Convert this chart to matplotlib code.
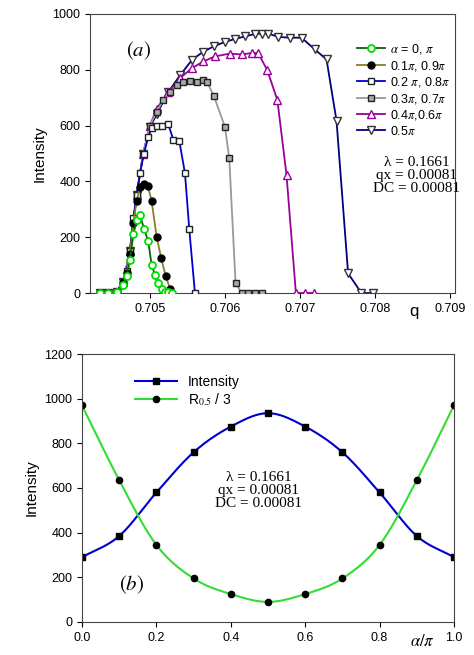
import numpy as np
import matplotlib
matplotlib.use("Agg")
import matplotlib.pyplot as plt

plt.rcParams['font.family'] = ['Liberation Sans', 'DejaVu Sans']
plt.rcParams['mathtext.fontset'] = 'stix'

rise_q = [0.704333, 0.704444, 0.704556, 0.704644, 0.704689, 0.704733, 0.704778, 0.704822]
q0 = rise_q + [0.704867, 0.70492, 0.704978, 0.705022, 0.705067, 0.705111, 0.705156, 0.7052, 0.705244, 0.705289]
i0 = [0, 0, 5, 30, 60, 120, 210, 260, 280, 230, 185, 100, 65, 35, 15, 5, 2, 0]
q1 = rise_q + [0.70487, 0.70492, 0.70497, 0.705022, 0.70509, 0.70515, 0.70521, 0.70527]
i1 = [0, 0, 5, 35, 70, 140, 250, 330, 380, 390, 385, 330, 200, 125, 60, 15]
q2 = rise_q + [0.704867, 0.70492, 0.704978, 0.705022, 0.705089, 0.705156, 0.705244, 0.705311, 0.705391, 0.705467, 0.705524, 0.7056]
i2 = [0, 0, 5, 40, 80, 150, 270, 350, 430, 500, 560, 590, 600, 600, 605, 550, 545, 430, 230, 0]
q3 = [0.704333, 0.704444, 0.704556, 0.704644, 0.704733, 0.704822, 0.70491, 0.705, 0.705089, 0.705178, 0.705267, 0.705356, 0.705444, 0.705533, 0.705622, 0.705711, 0.705764, 0.705853, 0.706, 0.706058, 0.706142, 0.706222, 0.706311, 0.7064, 0.706489]
i3 = [0, 0, 5, 40, 150, 350, 500, 600, 650, 690, 720, 745, 755, 760, 755, 765, 755, 706, 596, 483, 37, 0, 0, 0, 0]
q4 = [0.704333, 0.704444, 0.704556, 0.704644, 0.704733, 0.704822, 0.70491, 0.705, 0.705089, 0.705244, 0.7054, 0.705556, 0.705711, 0.705867, 0.706067, 0.706222, 0.706356, 0.706444, 0.706564, 0.7067, 0.706822, 0.706947, 0.707067, 0.707191]
i4 = [0, 0, 5, 40, 150, 350, 500, 600, 660, 720, 770, 805, 830, 848, 858, 855, 860, 860, 799, 692, 423, 0, 0, 0]
q5 = [0.704333, 0.704444, 0.704556, 0.704644, 0.704733, 0.704822, 0.70491, 0.705, 0.705089, 0.705244, 0.7054, 0.70556, 0.70571, 0.70586, 0.706, 0.70613, 0.70627, 0.7064, 0.706489, 0.706578, 0.706711, 0.706867, 0.707022, 0.7072, 0.707356, 0.707489, 0.707644, 0.707822, 0.707978]
i5 = [0, 0, 5, 40, 150, 350, 500, 595, 640, 720, 780, 835, 865, 885, 900, 910, 920, 928, 930, 930, 918, 915, 915, 873, 837, 618, 70, 0, 0]
labels_a = [r"$\alpha$ = 0, $\pi$", r"0.1$\pi$, 0.9$\pi$", r"0.2 $\pi$, 0.8$\pi$",
            r"0.3$\pi$, 0.7$\pi$", r"0.4$\pi$,0.6$\pi$", r"0.5$\pi$"]

alpha = [0.0, 0.1, 0.2, 0.3, 0.4, 0.5, 0.6, 0.7, 0.8, 0.9, 1.0]
intensity_b = [290, 385, 580, 760, 875, 935, 875, 760, 580, 385, 290]
r05_b = [970, 635, 345, 195, 125, 90, 125, 195, 345, 635, 970]

def smooth(x, y, n=20):
    x = np.asarray(x, float); y = np.asarray(y, float)
    xp = np.concatenate([[2*x[0]-x[1]], x, [2*x[-1]-x[-2]]])
    yp = np.concatenate([[2*y[0]-y[1]], y, [2*y[-1]-y[-2]]])
    xs, ys = [], []
    for k in range(1, len(xp)-2):
        t = np.linspace(0, 1, n, endpoint=False)
        p0, p1, p2, p3 = yp[k-1:k+3]
        ys.append(0.5*(2*p1 + (-p0+p2)*t + (2*p0-5*p1+4*p2-p3)*t**2 + (-p0+3*p1-3*p2+p3)*t**3))
        xs.append(xp[k] + (xp[k+1]-xp[k])*t)
    xs.append([x[-1]]); ys.append([y[-1]])
    return np.concatenate(xs), np.concatenate(ys)

fig = plt.figure(figsize=(4.74, 6.55), dpi=100)
ax1 = fig.add_axes([90/474, 1-293/655, 365/474, 279/655])
ax2 = fig.add_axes([82/474, 1-622/655, 372/474, 268/655])
for ax in (ax1, ax2):
    for s in ax.spines.values():
        s.set_color("#444444")

ms = 5
ax1.plot(q5, i5, color="#000080", marker="v", mfc="white", mec="#333333", ms=ms+1, lw=1.3, label=labels_a[5], zorder=2)
ax1.plot(q4, i4, color="#990099", marker="^", mfc="white", mec="#990099", ms=ms+1, lw=1.3, label=labels_a[4], zorder=3)
ax1.plot(q3, i3, color="#999999", marker="s", mfc="#aaaaaa", mec="#222222", ms=ms-0.5, lw=1.3, label=labels_a[3], zorder=4)
ax1.plot(q2, i2, color="#0000cc", marker="s", mfc="white", mec="#222222", ms=ms, lw=1.3, label=labels_a[2], zorder=5)
ax1.plot(q1, i1, color="#8b7d2a", marker="o", mfc="black", mec="black", ms=ms, lw=1.3, label=labels_a[1], zorder=6)
ax1.plot(q0, i0, color="#006600", marker="o", mfc="white", mec="#00dd00", mew=1.3, ms=ms, lw=1.3, label=labels_a[0], zorder=7)
h, l = ax1.get_legend_handles_labels()
ax1.legend(h[::-1], l[::-1], loc="upper right", bbox_to_anchor=(1.01, 0.93), frameon=False,
           fontsize=9, handlelength=2.2, labelspacing=0.2, borderaxespad=0.3, handletextpad=0.4)
ax1.set_xlim(0.7042, 0.70907)
ax1.set_ylim(0, 1000)
ax1.set_xticks([0.705, 0.706, 0.707, 0.708, 0.709])
ax1.set_xticklabels(["0.705", "0.706", "0.707", "0.708", "0.709"])
ax1.set_yticks([0, 200, 400, 600, 800, 1000])
ax1.set_ylabel("Intensity", fontsize=11)
ax1.text(0.90, -0.065, "q", transform=ax1.transAxes, ha="right", va="center", fontsize=12)
ax1.text(0.1, 0.85, r"$(a)$", transform=ax1.transAxes, fontsize=15)
ax1.text(0.895, 0.42, "λ = 0.1661\nqx = 0.00081\nDC = 0.00081", transform=ax1.transAxes,
         ha="center", va="center", fontsize=11, family="Liberation Serif", linespacing=1.0)
ax1.tick_params(labelsize=9)

xs, ys = smooth(alpha, intensity_b)
ax2.plot(xs, ys, color="#0000cc", lw=1.5)
ax2.plot(alpha, intensity_b, ls="none", marker="s", color="black", ms=4.5)
ax2.plot([], [], color="#0000cc", lw=1.5, marker="s", mfc="black", mec="black", ms=4.5, label="Intensity")
xs, ys = smooth(alpha, r05_b)
ax2.plot(xs, ys, color="#33dd33", lw=1.5)
ax2.plot(alpha, r05_b, ls="none", marker="o", color="black", ms=4.5)
ax2.plot([], [], color="#33dd33", lw=1.5, marker="o", mfc="black", mec="black", ms=4.5, label=r"R$_{0.5}$ / 3")
ax2.legend(loc="upper left", bbox_to_anchor=(0.11, 0.97), frameon=False, fontsize=10,
           handlelength=3, labelspacing=0.2)
ax2.set_xlim(0, 1)
ax2.set_ylim(0, 1200)
ax2.set_xticks([0, 0.2, 0.4, 0.6, 0.8, 1.0])
ax2.set_xticklabels(["0.0", "0.2", "0.4", "0.6", "0.8", "1.0"])
ax2.set_yticks(range(0, 1201, 200))
ax2.set_ylabel("Intensity", fontsize=11)
ax2.text(0.915, -0.07, r"$\alpha/\pi$", transform=ax2.transAxes, ha="center", va="center", fontsize=12)
ax2.text(0.1, 0.12, r"$(b)$", transform=ax2.transAxes, fontsize=15)
ax2.text(0.475, 0.49, "λ = 0.1661\nqx = 0.00081\nDC = 0.00081", transform=ax2.transAxes,
         ha="center", va="center", fontsize=11, family="Liberation Serif", linespacing=1.0)
ax2.tick_params(labelsize=9)

fig.savefig("out.png", dpi=100)
